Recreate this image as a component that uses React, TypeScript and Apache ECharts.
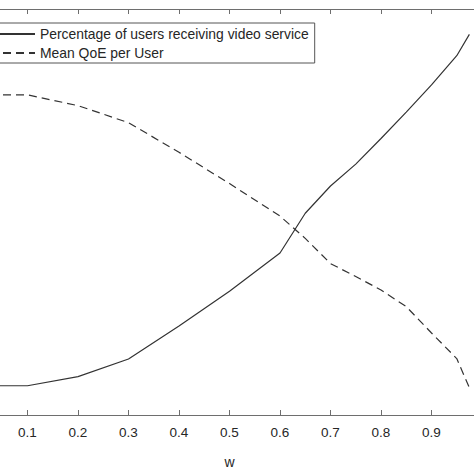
import React, { useEffect, useRef } from "react";
import * as echarts from "echarts";

const wValues = [0, 0.1, 0.2, 0.3, 0.4, 0.5, 0.6, 0.65, 0.7, 0.75, 0.8, 0.85, 0.9, 0.95, 0.975];
const percentUsers = [7.2, 7.2, 9.45, 13.8, 21.9, 30.5, 39.9, 49.7, 56.4, 61.8, 68.1, 74.6, 81.3, 88.5, 93.75];
const meanQoE = [78.85, 78.85, 76.2, 72.0, 64.7, 57.0, 49.0, 43.5, 37.3, 34.1, 30.8, 26.7, 20.2, 13.9, 6.7];
const xTickLabels = [0.1, 0.2, 0.3, 0.4, 0.5, 0.6, 0.7, 0.8, 0.9];
const seriesNames = ["Percentage of users receiving video service", "Mean QoE per User"];

const FONT = "Arial, 'Liberation Sans', Helvetica, sans-serif";
const AXIS = "#6e6e6e";
const LINE = "#333333";

export default function App() {
  const ref = useRef<HTMLDivElement>(null);
  useEffect(() => {
    document.body.style.margin = "0";
    document.body.style.overflow = "hidden";
    if (!ref.current) return;
    const chart = echarts.init(ref.current, undefined, { renderer: "svg" });
    const axisCommon = {
      type: "value",
      min: 0,
      max: 1,
      interval: 0.1,
      axisLine: { show: true, onZero: false, lineStyle: { color: AXIS, width: 1 } },
      axisTick: { show: true, inside: true, length: 5, lineStyle: { color: AXIS } },
      splitLine: { show: false },
    };
    chart.setOption({
      animation: false,
      backgroundColor: "#ffffff",
      grid: { left: 0, right: 0, top: 9, bottom: 49, containLabel: false },
      legend: {
        orient: "vertical",
        left: 7,
        top: 23,
        data: seriesNames,
        itemWidth: 45,
        itemHeight: 14,
        itemGap: 5,
        padding: [4, 6, 3, 8],
        borderColor: "#555555",
        borderWidth: 1,
        backgroundColor: "#ffffff",
        itemStyle: { opacity: 0 },
        textStyle: { fontFamily: FONT, fontSize: 13.9, color: "#262626" },
      },
      xAxis: [
        {
          ...axisCommon,
          position: "bottom",
          name: "w",
          nameLocation: "middle",
          nameGap: 40,
          nameTextStyle: { fontFamily: FONT, fontSize: 14, color: "#262626" },
          axisLabel: {
            show: true,
            margin: 10,
            fontFamily: FONT,
            fontSize: 13.5,
            color: "#262626",
            formatter: (v: number) => {
              const t = xTickLabels.find((x) => Math.abs(x - v) < 1e-6);
              return t === undefined ? "" : String(t);
            },
          },
        },
        {
          ...axisCommon,
          position: "top",
          axisLabel: { show: false },
        },
      ],
      yAxis: [
        {
          type: "value",
          min: 0,
          max: 100,
          position: "left",
          axisLine: { show: true, lineStyle: { color: AXIS } },
          axisTick: { show: false },
          axisLabel: { show: false },
          splitLine: { show: false },
        },
      ],
      series: [
        {
          name: seriesNames[0],
          type: "line",
          data: wValues.map((w, i) => [w, percentUsers[i]]),
          showSymbol: false,
          symbol: "none",
          lineStyle: { color: LINE, width: 1.2, type: "solid" },
          itemStyle: { color: LINE },
        },
        {
          name: seriesNames[1],
          type: "line",
          data: wValues.map((w, i) => [w, meanQoE[i]]),
          showSymbol: false,
          symbol: "none",
          lineStyle: { color: LINE, width: 1.2, type: [8, 5] },
          itemStyle: { color: LINE },
        },
      ],
    });
    return () => chart.dispose();
  }, []);
  return (
    <div
      style={{
        position: "absolute",
        left: 0,
        top: 0,
        width: 474,
        height: 474,
        overflow: "hidden",
        background: "#fff",
      }}
    >
      <div
        ref={ref}
        style={{ position: "absolute", left: -26, top: 0, width: 511, height: 474 }}
      />
    </div>
  );
}
